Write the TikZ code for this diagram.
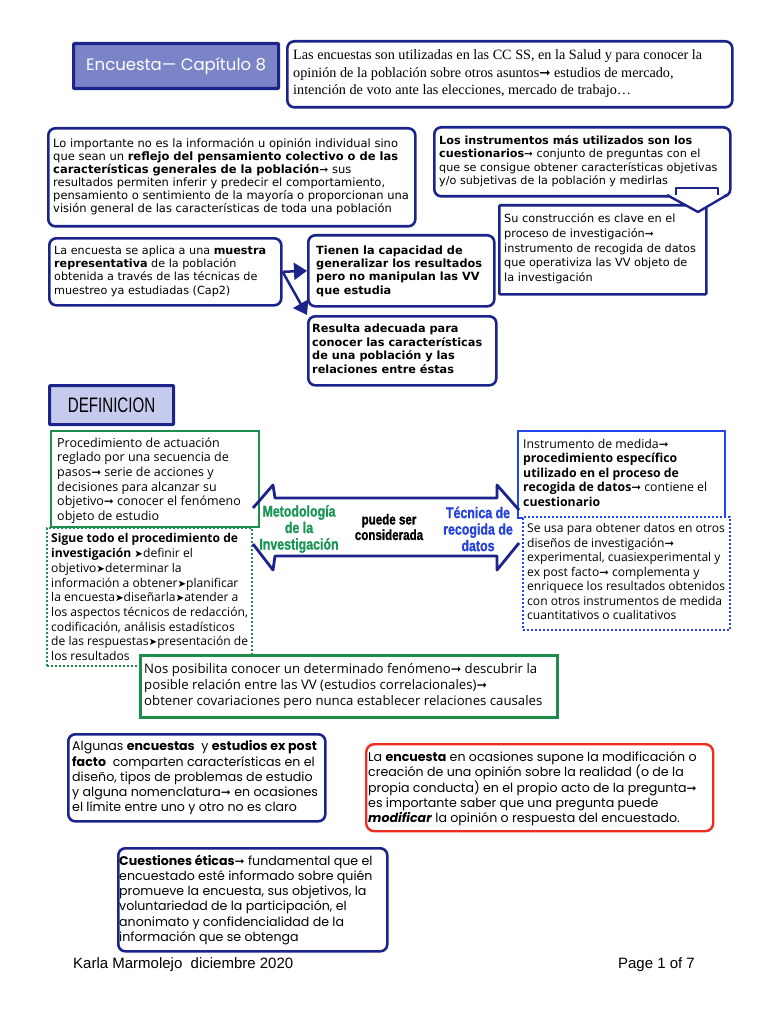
\documentclass[tikz,border=0pt]{standalone}
\usepackage{fontspec}
\usepackage{graphicx}
\setmainfont{DejaVu Sans}
\newfontfamily\verd{DejaVu Sans}
\newfontfamily\lucf{Open Sans}
\newfontfamily\gothf{Poppins}
\newfontfamily\serf{Liberation Serif}
\newfontfamily\helv{Liberation Sans}
\newfontfamily\condf[FakeStretch=0.8,FakeBold=1.2]{Liberation Sans}
\newfontfamily\defif[FakeStretch=0.72]{Liberation Sans}
\newfontfamily\symf{DejaVu Sans}
\usetikzlibrary{arrows.meta}
\definecolor{navy}{RGB}{28,36,140}
\definecolor{lav}{RGB}{124,132,200}
\definecolor{lavl}{RGB}{198,202,236}
\definecolor{gbox}{RGB}{30,140,75}
\definecolor{gtxt}{RGB}{25,150,85}
\definecolor{bbox}{RGB}{35,70,235}
\definecolor{btxt}{RGB}{35,65,220}
\definecolor{rbox}{RGB}{240,45,30}
\newcommand{\rarr}{\scalebox{0.95}{{\symf\bfseries ➞}}}
\newcommand{\tri}{\scalebox{0.85}{{\symf ➤}}}
\begin{document}
\begin{tikzpicture}[x=1pt,y=-1pt,
  nb/.style={draw=navy, line width=2.6pt, rounded corners=7pt, fill=white, inner sep=0pt, anchor=north west},
  sqb/.style={draw=navy, line width=2.6pt, rounded corners=1pt, fill=white, inner sep=0pt, anchor=north west},
  gb/.style={draw=gbox, line width=2.2pt, fill=white, inner sep=0pt, anchor=north west},
  gdot/.style={draw=gbox, line width=2pt, dash pattern=on 2pt off 2pt, fill=white, inner sep=0pt, anchor=north west},
  bb/.style={draw=bbox, line width=2.2pt, fill=white, inner sep=0pt, anchor=north west},
  bdot/.style={draw=bbox, line width=2pt, dash pattern=on 2pt off 2pt, fill=white, inner sep=0pt, anchor=north west},
  rb/.style={draw=rbox, line width=2.4pt, rounded corners=8pt, fill=white, inner sep=0pt, anchor=north west},
  tx/.style={anchor=north west, inner sep=0pt, align=left},
  vt/.style={tx, font=\verd\fontsize{11.2}{13.3}\selectfont},
  lt/.style={tx, font=\lucf\fontsize{12.3}{14.6}\selectfont},
  gt/.style={tx, font=\gothf\fontsize{12.6}{15.2}\selectfont},
  ct/.style={align=center, inner sep=0pt, font=\condf\bfseries\fontsize{15.5}{16.5}\selectfont},
  conn/.style={draw=navy, line width=2.5pt, -{Triangle[length=13pt,width=17pt]}},
  shp/.style={draw=navy, line width=2.8pt, line join=round}
]
\path[use as bounding box] (0,0) rectangle (768,1024);

% title
\node[sqb, fill=lav, line width=3.2pt, minimum width=205pt, minimum height=45pt] (title) at (72,42) {};
\node[font=\gothf\fontsize{16.5}{18}\selectfont, text=white] (titlet) at (title.center) {Encuesta— Capítulo 8};

% intro
\node[nb, minimum width=445pt, minimum height=66pt] (intro) at (286,40) {};
\node[tx, font=\serf\fontsize{14.2}{17.5}\selectfont] (introt) at (293,49.5) {Las encuestas son utilizadas en las CC SS, en la Salud y para conocer la\\
opinión de la población sobre otros asuntos\rarr\ estudios de mercado,\\
intención de voto ante las elecciones, mercado de trabajo…};

% lo importante
\node[nb, minimum width=367pt, minimum height=98pt] (impo) at (47,127) {};
\node[vt, font=\verd\fontsize{11.5}{13}\selectfont] (impot) at (53,138.5) {Lo importante no es la información u opinión individual sino\\
que sean un \textbf{reflejo del pensamiento colectivo o de las}\\
\textbf{características generales de la población\rarr} sus\\
resultados permiten inferir y predecir el comportamiento,\\
pensamiento o sentimiento de la mayoría o proporcionan una\\
visión general de las características de toda una población};

% su construccion
\node[sqb, minimum width=207pt, minimum height=89pt] (cons) at (498,204) {};
\node[vt, font=\verd\fontsize{11.3}{14.7}\selectfont] (const) at (504,213.5) {Su construcción es clave en el\\
proceso de investigación\rarr\\
instrumento de recogida de datos\\
que operativiza las VV objeto de\\
la investigación};

% los instrumentos
\node[nb, minimum width=296pt, minimum height=69pt] (instr) at (433,126) {};
\draw[shp, line width=2.4pt, fill=white] (667,195) -- (698,212) -- (727,195);
\fill[white] (677,190) rectangle (717,198);
\draw[shp, line width=2.4pt] (676,195.5) -- (676,188) -- (718,188) -- (718,195.5);
\node[vt] (instrt) at (439,135.5) {\textbf{Los instrumentos más utilizados son los}\\
\textbf{cuestionarios\rarr} conjunto de preguntas con el\\
que se consigue obtener características objetivas\\
y/o subjetivas de la población y medirlas};

% la encuesta se aplica
\node[nb, minimum width=232pt, minimum height=67pt] (enc) at (48,237) {};
\node[vt] (enct) at (54,245.5) {La encuesta se aplica a una \textbf{muestra}\\
\textbf{representativa} de la población\\
obtenida a través de las técnicas de\\
muestreo ya estudiadas (Cap2)};

\node[nb, minimum width=186pt, minimum height=71pt] (tie) at (307,234) {};
\node[vt, font=\verd\bfseries\fontsize{11.3}{13.3}\selectfont] (tiet) at (316,245.5) {Tienen la capacidad de\\
generalizar los resultados\\
pero no manipulan las VV\\
que estudia};

\node[nb, minimum width=188pt, minimum height=69pt] (res) at (307,315) {};
\node[vt, font=\verd\bfseries\fontsize{11.3}{13.5}\selectfont] (rest) at (312,324) {Resulta adecuada para\\
conocer las características\\
de una población y las\\
relaciones entre éstas};

\draw[conn] (enc.east) -- (tie.west);
\draw[conn] (enc.east) -- (res.north west);

% definicion
\node[sqb, fill=lavl, line width=3.2pt, minimum width=124pt, minimum height=39pt] (defi) at (48,384) {};
\node[font=\defif\fontsize{21}{22}\selectfont] (defit) at (defi.center) {DEFINICION};

% green boxes
\node[gb, minimum width=208pt, minimum height=96pt] (proc) at (50,430) {};
\node[lt, font=\lucf\fontsize{12.5}{14.6}\selectfont] (proct) at (57,437.5) {Procedimiento de actuación\\
reglado por una secuencia de\\
pasos\rarr\ serie de acciones y\\
decisiones para alcanzar su\\
objetivo\rarr\ conocer el fenómeno\\
objeto de estudio};

\node[gdot, minimum width=205pt, minimum height=138pt] (sig) at (46,527) {};
\node[lt, font=\lucf\fontsize{12.1}{14.7}\selectfont] (sigt) at (51,533.5) {\textbf{Sigue todo el procedimiento de}\\
\textbf{investigación} \tri definir el\\
objetivo\tri determinar la\\
información a obtener\tri planificar\\
la encuesta\tri diseñarla\tri atender a\\
los aspectos técnicos de redacción,\\
codificación, análisis estadísticos\\
de las respuestas\tri presentación de\\
los resultados};

% blue boxes
\node[bb, minimum width=207pt, minimum height=87pt] (inst) at (517,430) {};
\node[bdot, minimum width=207pt, minimum height=113pt] (seu) at (522,516) {};
\node[lt, font=\lucf\fontsize{12.3}{14.5}\selectfont] (instt) at (523,438.5) {Instrumento de medida\rarr\\
\textbf{procedimiento específico}\\
\textbf{utilizado en el proceso de}\\
\textbf{recogida de datos\rarr} contiene el\\
\textbf{cuestionario}};
\node[lt, font=\lucf\fontsize{12.1}{14.5}\selectfont] (seut) at (527,523.5) {Se usa para obtener datos en otros\\
diseños de investigación\rarr\\
experimental, cuasiexperimental y\\
ex post facto\rarr\ complementa y\\
enriquece los resultados obtenidos\\
con otros instrumentos de medida\\
cuantitativos o cualitativos};

% double arrow
\draw[shp] (253,508) -- (273,485) -- (275,498) -- (497,498) -- (497,485) -- (519,510);
\draw[shp] (253,544) -- (273,570) -- (275,556) -- (497,556) -- (497,570) -- (519,543);
\node[ct, text=gtxt] (met) at (299,529) {Metodología\\de la\\Investigación};
\node[ct, text=black, font=\condf\bfseries\fontsize{14.5}{15.5}\selectfont] (pue) at (389,527) {puede ser\\considerada};
\node[ct, text=btxt] (tec) at (478,529) {Técnica de\\recogida de\\datos};

% nos posibilita
\node[gb, line width=2.5pt, minimum width=417pt, minimum height=62pt] (nos) at (139,654) {};
\node[lt, font=\lucf\fontsize{13.2}{16}\selectfont] (nost) at (144,663) {Nos posibilita conocer un determinado fenómeno\rarr\ descubrir la\\
posible relación entre las VV (estudios correlacionales)\rarr\\
obtener covariaciones pero nunca establecer relaciones causales};

% lower boxes
\node[nb, minimum width=257pt, minimum height=87pt] (alg) at (67,733) {};
\node[gt] (algt) at (72,740.5) {Algunas \textbf{encuestas}\ \ y \textbf{estudios ex post}\\
\textbf{facto}\ \ comparten características en el\\
diseño, tipos de problemas de estudio\\
y alguna nomenclatura\rarr\ en ocasiones\\
el límite entre uno y otro no es claro};

\node[rb, minimum width=347pt, minimum height=87pt] (red) at (365,743) {};
\node[gt] (redt) at (368,751.5) {La \textbf{encuesta} en ocasiones supone la modificación o\\
creación de una opinión sobre la realidad (o de la\\
propia conducta) en el propio acto de la pregunta\rarr\\
es importante saber que una pregunta puede\\
\textbf{\textit{modificar}} la opinión o respuesta del encuestado.};

\node[nb, minimum width=269pt, minimum height=103pt] (eti) at (117,847) {};
\node[gt] (etit) at (119,854.5) {\textbf{Cuestiones éticas\rarr} fundamental que el\\
encuestado esté informado sobre quién\\
promueve la encuesta, sus objetivos, la\\
voluntariedad de la participación, el\\
anonimato y confidencialidad de la\\
información que se obtenga};

% footer
\node[tx, font=\helv\fontsize{15}{17}\selectfont] (foot) at (73,957) {Karla Marmolejo\ \ diciembre 2020};
\node[anchor=north east, inner sep=0pt, font=\helv\fontsize{15}{17}\selectfont] (page) at (695,957) {Page 1 of 7};
\end{tikzpicture}
\end{document}
